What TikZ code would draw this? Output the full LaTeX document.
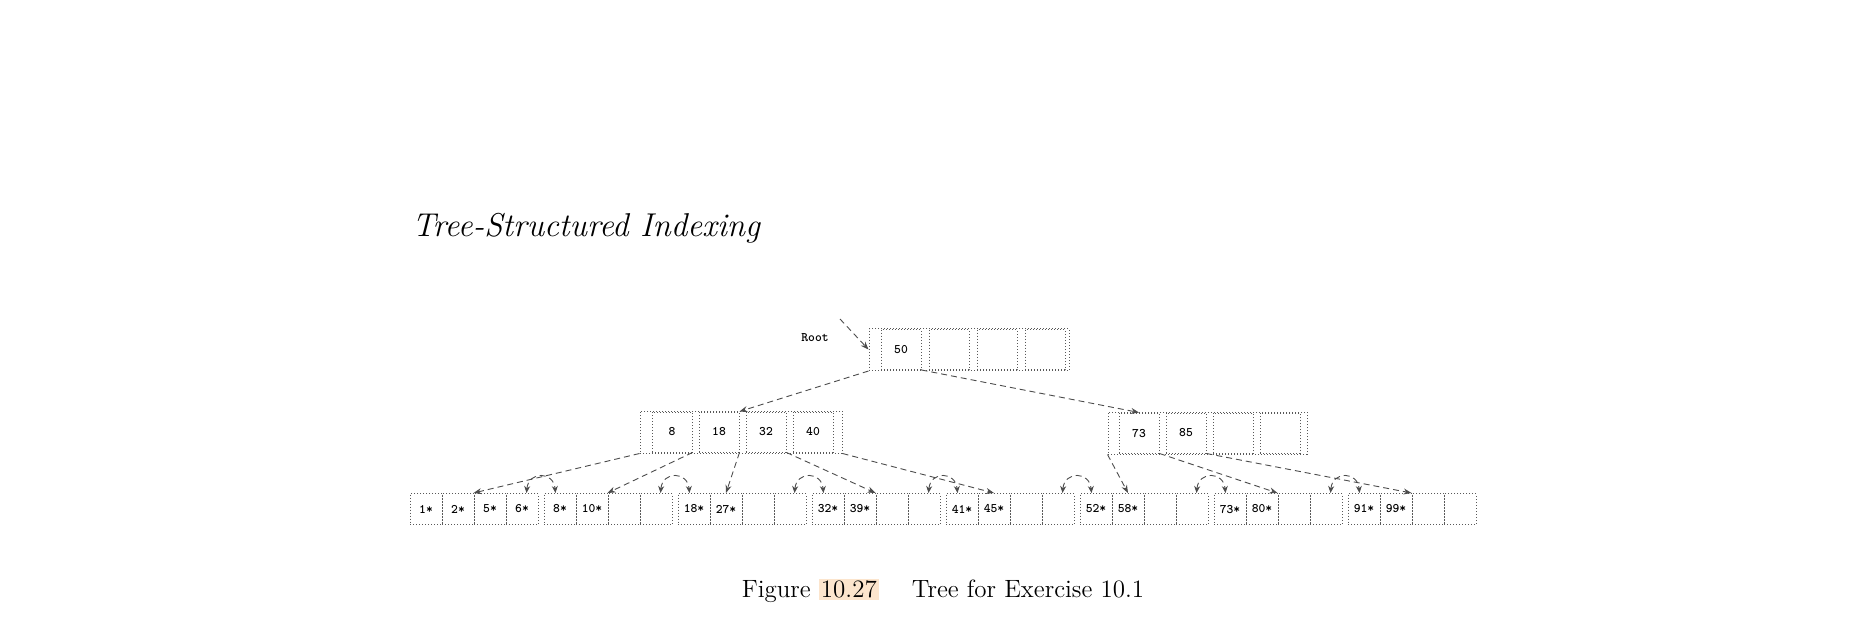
\documentclass[tikz,border=0pt]{standalone}
\usetikzlibrary{arrows.meta}
\begin{document}
\begin{tikzpicture}[x=0.5pt,y=-0.5pt,
  ln/.style={draw=black!65,densely dotted,line width=0.5pt},
  cellbox/.style={ln,minimum height=15pt,inner sep=0pt,font=\ttfamily\bfseries\fontsize{6.5}{7}\selectfont},
  leafcell/.style={cellbox,minimum width=16pt,minimum height=15.5pt},
  keycell/.style={cellbox,minimum width=20pt,minimum height=20pt},
  outerbox/.style={ln,minimum height=21pt,inner sep=0pt},
  ptr/.style={draw=black!70,densely dashed,line width=0.45pt,-{Stealth[length=4pt,width=3pt]}},
  sib/.style={draw=black!70,densely dashed,line width=0.45pt,{Stealth[length=3.5pt,width=3pt]}-{Stealth[length=3.5pt,width=3pt]}}]
\useasboundingbox (0,0) rectangle (1864,637);
% title
\node[anchor=west,font=\fontsize{16.5}{19}\selectfont\itshape] (title) at (405,228) {Tree-Structured Indexing};
% root
\node[outerbox,minimum width=100pt] (R) at (969,349.5) {};
\foreach \j/\t in {0/50,1/,2/,3/}{
  \node[keycell] (Rc\j) at ({901+48*\j},349.5) {\t};}
\node[font=\ttfamily\bfseries\fontsize{6.5}{7}\selectfont] (rootlbl) at (815,338) {Root};
\coordinate (rootfrom) at (840,319);
\draw[ptr] (rootfrom) -- (R.west);
% left internal node
\node[outerbox,minimum width=101pt] (I1) at (741,432) {};
\foreach \j/\t in {0/8,1/18,2/32,3/40}{
  \node[keycell] (Ic\j) at ({672+47*\j},432) {\t};}
% right internal node
\node[outerbox,minimum width=99.5pt] (I2) at (1207.5,433) {};
\foreach \j/\t in {0/73,1/85,2/,3/}{
  \node[keycell] (Jc\j) at ({1139+47*\j},433) {\t};}
% leaves
\foreach \i/\a/\b/\c/\d in {1/1*/2*/5*/6*,2/8*/10*//,3/18*/27*//,4/32*/39*//,5/41*/45*//,6/52*/58*//,7/73*/80*//,8/91*/99*//}{
  \foreach \j/\t in {0/\a,1/\b,2/\c,3/\d}{
    \node[leafcell] (L\i c\j) at ({410+134*(\i-1)+16+32*\j},509) {\t};}
}
% root pointers
\draw[ptr] (R.south west) -- (Ic1.north east);
\draw[ptr] (Rc0.south east) -- (Jc0.north);
% left node pointers
\draw[ptr] (I1.south west) -- (L1c2.north west);
\draw[ptr] (Ic0.south east) -- (L2c2.north west);
\draw[ptr] (Ic1.south east) -- (L3c1.north);
\draw[ptr] (Ic2.south east) -- (L4c2.north west);
\draw[ptr] (I1.south east) -- (L5c1.north);
% right node pointers
\draw[ptr] (I2.south west) -- (L6c1.north);
\draw[ptr] (Jc0.south east) -- (L7c2.north west);
\draw[ptr] (Jc1.south east) -- (L8c2.north west);
% sibling links
\foreach \i [evaluate=\i as \n using int(\i+1)] in {1,...,7}{
  \draw[sib] ([xshift=-6pt]L\i c3.north east) .. controls +(1pt,11pt) and +(-1pt,11pt) .. ([xshift=6pt]L\n c0.north west);}
% caption
\node[font=\fontsize{12.5}{14}\selectfont] (cap) at (943,591) {Figure {\fboxsep=1pt\colorbox[HTML]{FCE5CD}{10.27}}\quad\ Tree for Exercise 10.1};
\end{tikzpicture}
\end{document}
